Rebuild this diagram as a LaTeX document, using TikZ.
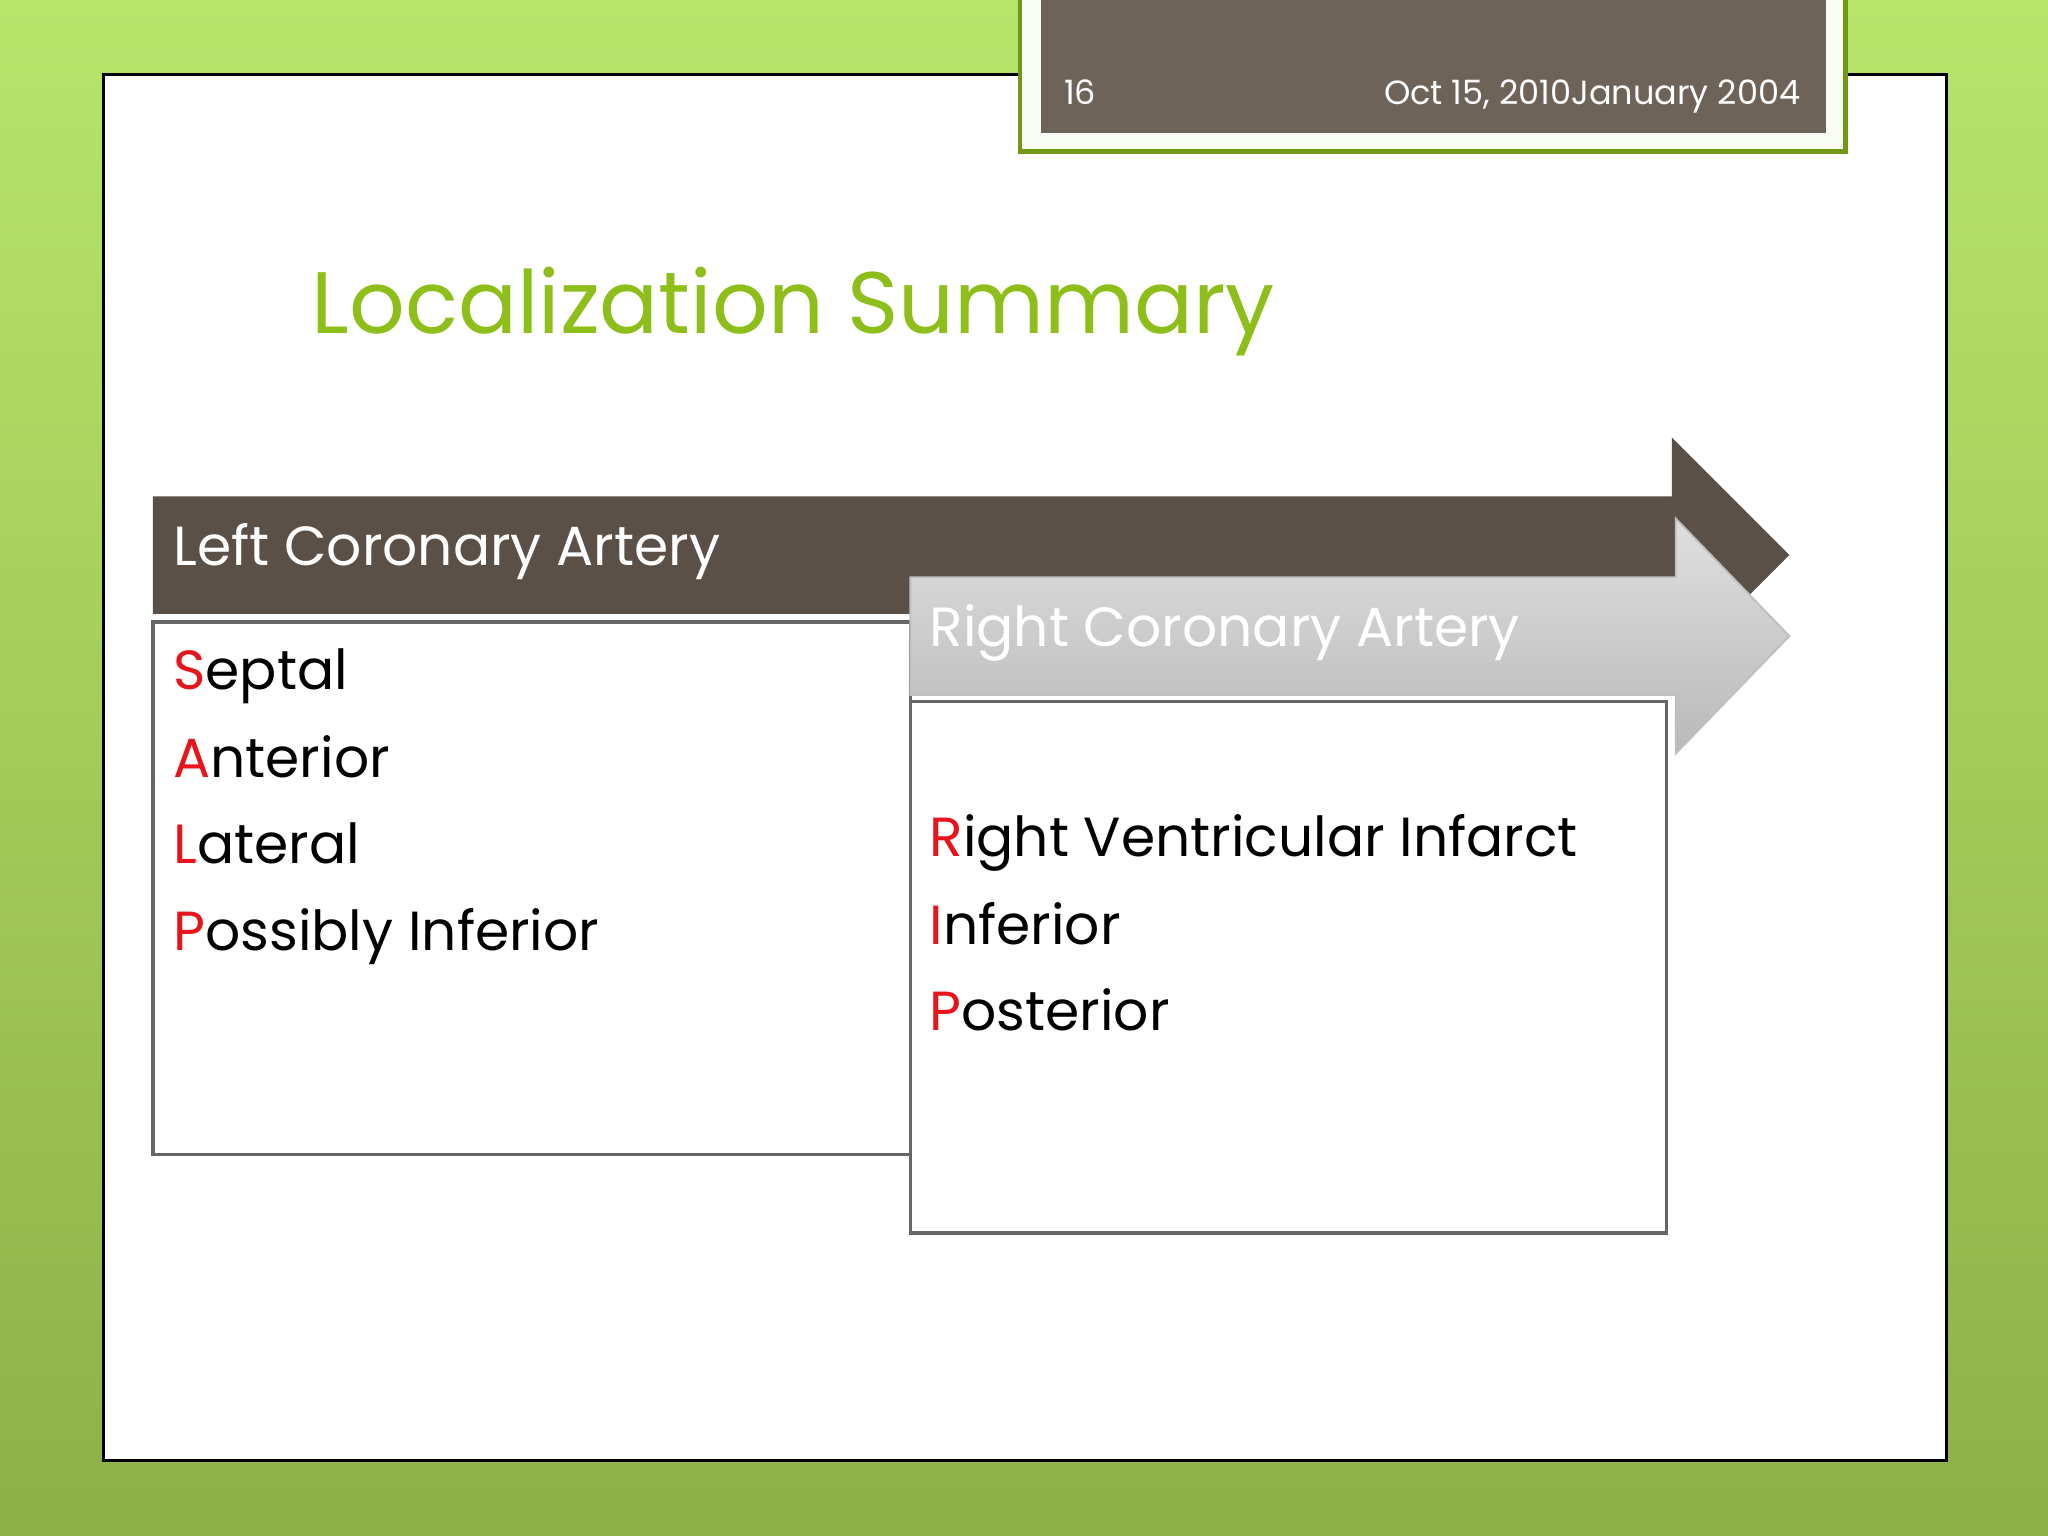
\documentclass[tikz,border=0pt]{standalone}
\usepackage{fontspec}
\setmainfont{Poppins}
\definecolor{bgA}{HTML}{B7E56A}
\definecolor{bgB}{HTML}{8DB048}
\definecolor{ttl}{HTML}{8DBE1A}
\definecolor{hdr}{HTML}{6E6358}
\definecolor{dark}{HTML}{5A5048}
\definecolor{redl}{HTML}{E8141B}
\tikzset{
 item/.style={anchor=base west,font=\fontsize{12}{14}\selectfont,text=black,inner sep=0},
 box/.style={draw=gray!80!black,line width=0.8pt,fill=white},
}
\newcommand{\rl}[2]{\textcolor{redl}{#1}#2}
\begin{document}
\begin{tikzpicture}[x=0.01cm,y=-0.01cm]
\useasboundingbox (0,0) rectangle (1568,1176);
\shade[top color=bgA,bottom color=bgB] (0,0) rectangle (1568,1176);
\draw[fill=white,line width=0.6pt] (79,57) rectangle (1490,1118);
% header
\draw[draw=ttl!80!black,fill=white!95!ttl,line width=1pt] (781,-5) rectangle (1413,116);
\fill[hdr] (797,-5) rectangle (1398,102);
\node[anchor=base west,text=white,font=\fontsize{7.3}{9}\selectfont,inner sep=0] (num) at (814,80) {16};
\node[anchor=base east,text=white,font=\fontsize{7.3}{9}\selectfont,inner sep=0] (date) at (1379,80) {Oct 15, 2010January 2004};
% title
\node[anchor=base west,text=ttl,font=\fontsize{19}{22}\selectfont,inner sep=0] (title) at (238,255) {Localization Summary};
% left arrow
\fill[dark] (117,380) -- (1280,380) -- (1280,335) -- (1370,425) -- (1280,515) -- (1280,470) -- (117,470) -- cycle;
\node[anchor=base west,text=white,font=\fontsize{12}{14}\selectfont,inner sep=0] (lca) at (132,433) {Left Coronary Artery};
\draw[box] (117,476) rectangle (697,884);
\node[item] (s) at (132,528) {\rl{S}{eptal}};
\node[item] (a) at (132,595) {\rl{A}{nterior}};
\node[item] (l) at (132,661) {\rl{L}{ateral}};
\node[item] (p) at (132,728) {\rl{P}{ossibly Inferior}};
% right arrow
\shade[top color=gray!25,bottom color=gray!55,draw=gray!50] (697,442) -- (1283,442) -- (1283,397) -- (1370,487) -- (1283,577) -- (1283,532) -- (697,532) -- cycle;
\node[anchor=base west,text=white,font=\fontsize{12}{14}\selectfont,inner sep=0] (rca) at (711,495) {Right Coronary Artery};
\draw[box] (697,537) rectangle (1276,944);
\node[item] (r) at (711,656) {\rl{R}{ight Ventricular Infarct}};
\node[item] (i) at (711,723) {\rl{I}{nferior}};
\node[item] (po) at (711,789) {\rl{P}{osterior}};
\end{tikzpicture}
\end{document}
